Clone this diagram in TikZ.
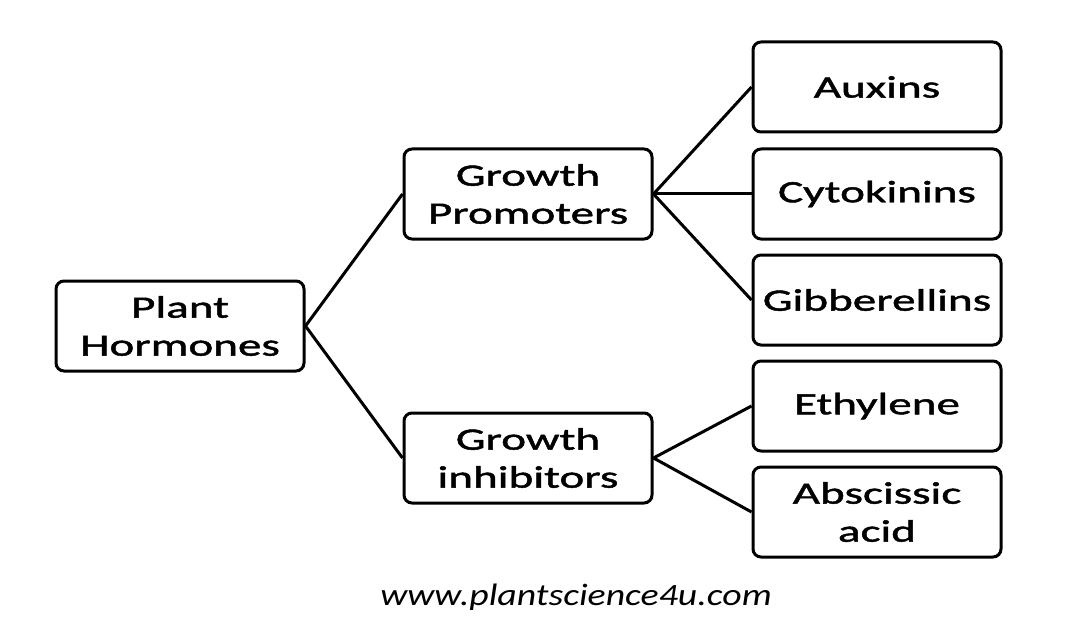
\documentclass[tikz,border=0pt]{standalone}
\usepackage{fontspec}
\setmainfont{Carlito}
\newfontfamily\boxfont{Carlito}[FakeStretch=1.52,FakeBold=1.5]
\newfontfamily\urlfont{Carlito}[FakeStretch=1.22]
\begin{document}
\begin{tikzpicture}[x=1pt,y=-1pt,
  box/.style={draw=black,line width=3pt,rounded corners=8pt,minimum width=248pt,minimum height=90pt,align=center,font=\boxfont\fontsize{31}{38}\selectfont},
  con/.style={line width=3pt}]
\useasboundingbox (0,0) rectangle (1092,639);
\node[box] (ph) at (180,326) {Plant\\Hormones};
\node[box] (gp) at (528,194) {Growth\\Promoters};
\node[box] (gi) at (528,458) {Growth\\inhibitors};
\node[box] (au) at (877,87) {Auxins};
\node[box] (cy) at (877,194) {Cytokinins};
\node[box] (gb) at (877,300) {Gibberellins};
\node[box] (et) at (877,406) {Ethylene};
\node[box] (ab) at (877,512) {Abscissic\\acid};
\draw[con] (ph.east) -- (gp.west);
\draw[con] (ph.east) -- (gi.west);
\draw[con] (gp.east) -- (au.west);
\draw[con] (gp.east) -- (cy.west);
\draw[con] (gp.east) -- (gb.west);
\draw[con] (gi.east) -- (et.west);
\draw[con] (gi.east) -- (ab.west);
\node[font=\urlfont\fontsize{31}{38}\selectfont\itshape] (url) at (576,597) {www.plantscience4u.com};
\end{tikzpicture}
\end{document}
